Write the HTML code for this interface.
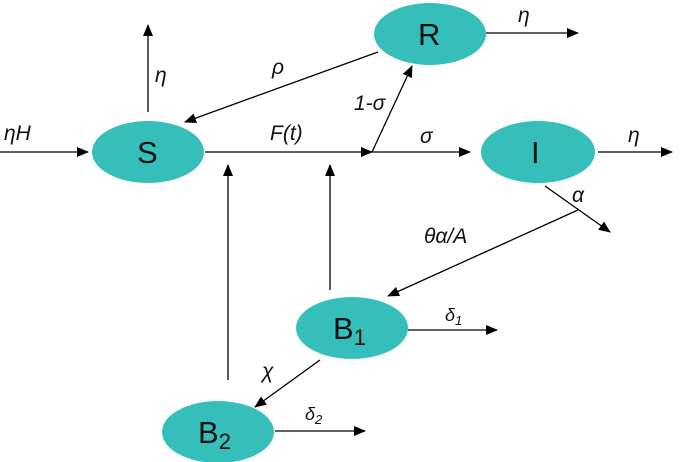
<!DOCTYPE html>
<html><head><meta charset="utf-8"><style>
html,body{margin:0;padding:0;background:#fff;}
svg{display:block;}
text{font-family:"Liberation Sans",sans-serif;fill:#111;}
.i{font-style:italic;font-size:21px;}
.n{font-size:31px;}
</style></head><body>
<svg width="685" height="462" viewBox="0 0 685 462">
<defs><marker id="a" markerWidth="12" markerHeight="10" refX="11" refY="5" orient="auto" markerUnits="userSpaceOnUse"><path d="M0,0 L12,5 L0,10 z" fill="#000"/></marker></defs>
<g stroke="#000" stroke-width="1.3" fill="none" marker-end="url(#a)">
<line x1="0" y1="152" x2="88" y2="152"/>
<line x1="148" y1="112" x2="148" y2="25"/>
<line x1="378" y1="52" x2="185" y2="122"/>
<line x1="205" y1="152" x2="372" y2="152"/>
<line x1="372" y1="152" x2="412" y2="66"/>
<line x1="372" y1="152" x2="470" y2="152"/>
<line x1="486" y1="33" x2="578" y2="33"/>
<line x1="598" y1="152" x2="672" y2="152"/>
<line x1="545" y1="186" x2="610" y2="232"/>
<line x1="578" y1="210" x2="388" y2="296"/>
<line x1="330" y1="290" x2="330" y2="165"/>
<line x1="228" y1="380" x2="228" y2="165"/>
<line x1="408" y1="330" x2="497" y2="330"/>
<line x1="320" y1="360" x2="255" y2="407"/>
<line x1="275" y1="431" x2="365" y2="431"/>
</g>
<g fill="#36bfba">
<ellipse cx="148" cy="152" rx="56" ry="31"/>
<ellipse cx="430" cy="34" rx="56" ry="31"/>
<ellipse cx="538" cy="152" rx="57" ry="31"/>
<ellipse cx="352" cy="328" rx="56" ry="31"/>
<ellipse cx="218" cy="432" rx="56" ry="31"/>
</g>
<text class="n" x="137" y="163">S</text>
<text class="n" x="418" y="45">R</text>
<text class="n" x="531" y="163">I</text>
<text class="n" x="333" y="339">B<tspan font-size="22" dy="6">1</tspan></text>
<text class="n" x="198" y="443">B<tspan font-size="22" dy="6">2</tspan></text>
<text class="i" x="4" y="140">ηH</text>
<text class="i" x="155" y="82">η</text>
<text class="i" x="272" y="74">ρ</text>
<text class="i" x="270" y="140">F(t)</text>
<text class="i" x="354" y="110">1-σ</text>
<text class="i" x="420" y="143">σ</text>
<text class="i" x="518" y="22">η</text>
<text class="i" x="628" y="142">η</text>
<text class="i" x="572" y="202">α</text>
<text class="i" x="424" y="243">θα/A</text>
<text class="i" x="445" y="321" style="font-size:18px">δ<tspan font-size="13" dy="4">1</tspan></text>
<text class="i" x="262" y="378">χ</text>
<text class="i" x="305" y="420" style="font-size:18px">δ<tspan font-size="13" dy="4">2</tspan></text>
</svg>
</body></html>
